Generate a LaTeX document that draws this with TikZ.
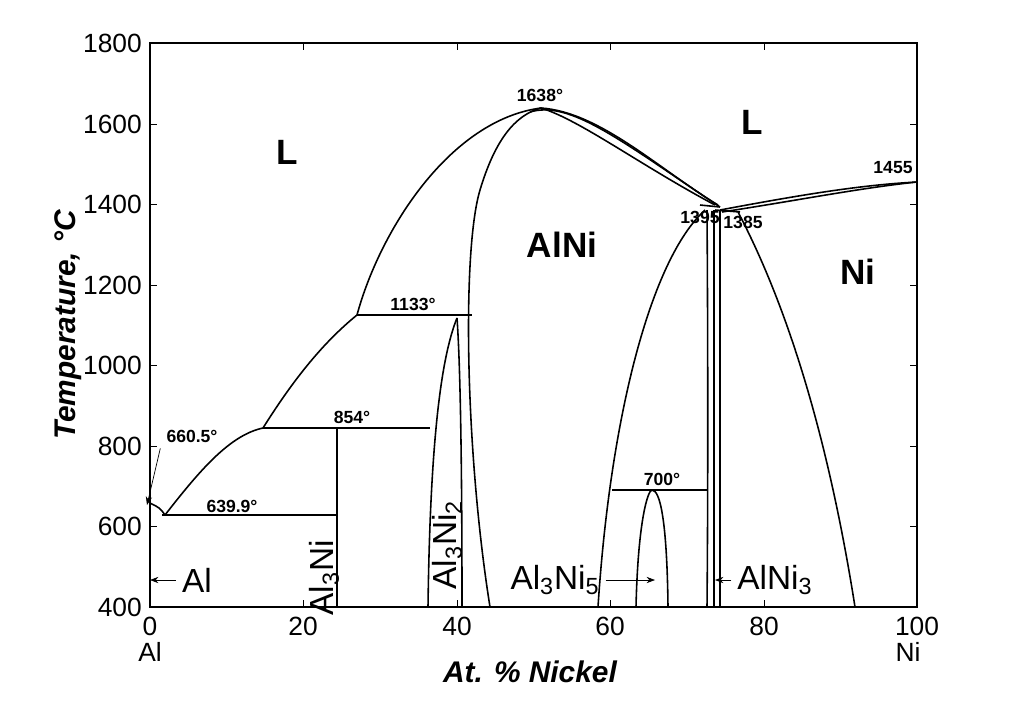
\documentclass[tikz,border=0pt]{standalone}
\usepackage{fontspec}
\setmainfont{Liberation Sans}
\usetikzlibrary{arrows.meta}
\begin{document}
\begin{tikzpicture}[x=0.02cm,y=-0.02cm,
  ph/.style={line width=0.9pt},
  tk/.style={font=\fontsize{15}{15}\selectfont},
  lb/.style={font=\fontsize{10}{10}\selectfont\bfseries},
  big/.style={font=\fontsize{20}{20}\selectfont\bfseries},
  reg/.style={font=\fontsize{19}{19}\selectfont}]
\useasboundingbox (0,0) rectangle (1024,718);
\draw[line width=1pt] (150,43) rectangle (917,607);
\foreach \t/\lab [count=\i from 0] in {607/400,526/600,446/800,365/1000,285/1200,204/1400,124/1600,43/1800}{
  \draw (150,\t) -- (157,\t); \draw (917,\t) -- (910,\t);
  \node[tk,anchor=east] (y\i) at (148,\t) {\lab};}
\foreach \p/\lab [count=\i from 0] in {150/0,303/20,457/40,610/60,764/80,917/100}{
  \draw (\p,607) -- (\p,600); \draw (\p,43) -- (\p,50);
  \node[tk,anchor=north] (x\i) at (\p,611) {\lab};}
\node[tk] (alx) at (150,652) {Al};
\node[tk] (nix) at (908,652) {Ni};
\node[font=\fontsize{17}{17}\selectfont\bfseries\itshape] (xl) at (530,672) {At. \% Nickel};
\node[font=\fontsize{17}{17}\selectfont\bfseries\itshape,rotate=90] (yl) at (68,325) {Temperature, °C};
% liquidus
\draw[ph] (150,503) .. controls (160,508) .. (165,515);
\draw[ph] (165,515) .. controls (200,470) and (230,435) .. (263,428);
\draw[ph] (263,428) .. controls (290,385) and (320,345) .. (357,315);
\draw[ph] (357,315) .. controls (380,230) and (450,120) .. (541,108);
\draw[ph] (541,108) .. controls (600,112) and (660,170) .. (718,205);
\draw[ph] (530,112) .. controls (570,100) and (620,140) .. (720,207);
\draw[ph] (541,108) .. controls (580,120) and (640,165) .. (715,205);
\draw[ph] (700,205) -- (720,207);
% invariant lines
\draw[ph] (162,515) -- (337,515);
\draw[ph] (263,428) -- (430,428);
\draw[ph] (357,315) -- (472,315);
\draw[ph] (612,490) -- (707,490);
\draw[ph] (715,210) -- (740,212);
\draw[ph] (337,428) -- (337,607);
\draw[ph] (428,607) .. controls (430,450) and (440,360) .. (457,318);
\draw[ph] (462,607) .. controls (462,450) and (460,360) .. (457,318);
\draw[ph] (490,607) .. controls (465,450) and (462,250) .. (480,190) .. controls (495,140) and (515,115) .. (541,108);
\draw[ph] (598,607) .. controls (610,420) and (650,260) .. (705,210);
\draw[ph] (636,607) .. controls (638,520) and (648,490) .. (652,490) .. controls (660,490) and (667,520) .. (668,607);
\draw[ph] (707,210) .. controls (708,350) and (708,500) .. (707,607);
\draw[ph] (714,210) -- (714,607);
\draw[ph] (720,210) -- (720,607);
\draw[ph] (738,212) .. controls (800,330) and (835,480) .. (855,607);
\draw[ph] (720,210) .. controls (800,195) and (860,185) .. (917,182);
\draw[ph] (722,212) .. controls (800,200) and (860,188) .. (917,182);
% labels
\node[big] (L1) at (287,152) {L};
\node[big] (L2) at (752,122) {L};
\node[big] (alni) at (562,245) {AlNi};
\node[big] (ni) at (858,272) {Ni};
\node[lb] (t1638) at (540,95) {1638°};
\node[lb] (t1455) at (893,168) {1455};
\node[lb] (t1395) at (700,217) {1395};
\node[lb] (t1385) at (743,222) {1385};
\node[lb] (t1133) at (413,304) {1133°};
\node[lb] (t854) at (352,417) {854°};
\node[lb] (t660) at (192,436) {660.5°};
\node[lb] (t640) at (232,506) {639.9°};
\node[lb] (t700) at (662,479) {700°};
\coordinate (alpt) at (147,505);
\draw[-{Stealth}] (t660.south west) -- (alpt);
\node[reg,rotate=90] (al3ni) at (324,578) {Al\textsubscript{3}Ni};
\node[reg,rotate=90] (al3ni2) at (447,545) {Al\textsubscript{3}Ni\textsubscript{2}};
\node[reg] (alreg) at (197,580) {Al};
\coordinate (alleft) at (150,580);
\draw[-{Stealth}] (alreg.west) -- (alleft);
\node[reg] (al3ni5) at (555,580) {Al\textsubscript{3}Ni\textsubscript{5}};
\coordinate (a5r) at (655,580);
\draw[-{Stealth}] (al3ni5.east) -- (a5r);
\node[reg] (alni3) at (775,580) {AlNi\textsubscript{3}};
\coordinate (a3l) at (715,580);
\draw[-{Stealth}] (alni3.west) -- (a3l);
\end{tikzpicture}
\end{document}
